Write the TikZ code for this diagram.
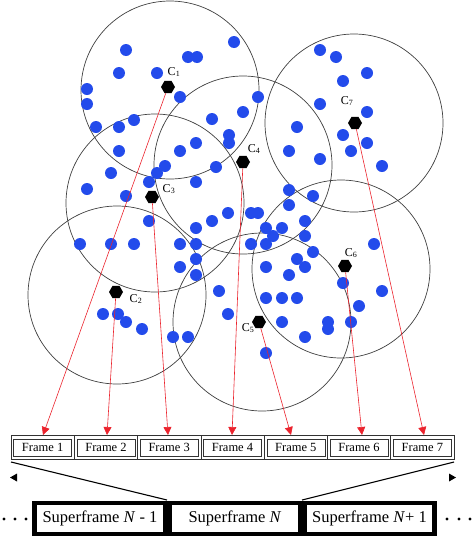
\documentclass[tikz,border=0pt]{standalone}
\usepackage{fontspec}
\setmainfont{Liberation Serif}
\usetikzlibrary{shapes.geometric,arrows.meta}
\definecolor{dotblue}{RGB}{35,75,235}
\definecolor{arrred}{RGB}{235,35,45}
\begin{document}
\begin{tikzpicture}[x=1pt,y=-1pt,
  covercirc/.style={draw=black!75, line width=0.7pt},
  sensordot/.style={fill=dotblue},
  chead/.style={regular polygon, regular polygon sides=6, fill=black, inner sep=0pt, minimum size=14pt},
  hlabel/.style={font=\fontsize{12}{12}\selectfont, inner sep=0pt},
  redarr/.style={draw=arrred, line width=0.6pt, -{Triangle[length=8pt,width=8pt]}},
  framecell/.style={draw=black!80, line width=0.6pt, minimum width=58pt, minimum height=17pt, inner sep=0pt, font=\fontsize{12.5}{12.5}\selectfont},
  supercell/.style={fill=white, minimum height=27pt, inner sep=0pt, font=\fontsize{16.5}{16.5}\selectfont},
  xlink/.style={draw=black, line width=1.1pt}]
\useasboundingbox (0,0) rectangle (474,536);
% coverage circles
\foreach \x/\y in {170/90, 354/123, 243/165, 155/203, 117/295, 262/322, 341/269}
  \draw[covercirc] (\x,\y) circle[radius=89];
% sensor nodes
\foreach \x/\y in {126/50, 188/57, 197/57, 234/42, 119/73, 157/73, 87/89, 87/104, 180/97,
  134/120, 119/127, 96/127, 212/119, 243/112, 258/97, 119/151, 180/151, 196/143, 229/135, 229/143,
  165/166, 157/173, 149/182, 216/167, 196/182, 111/173, 87/189, 126/196,
  320/50, 336/57, 367/73, 343/81, 320/104, 367/112, 297/127, 289/151, 320/159, 343/135,
  367/143, 351/151, 382/166, 289/190, 313/196,
  149/221, 228/213, 212/221, 196/228, 80/244, 111/244, 134/244, 180/244, 196/244, 196/259,
  180/267, 196/275, 219/291, 228/314, 103/314, 118/314, 126/322, 142/329, 173/337, 188/337,
  289/205, 251/213, 258/213, 305/221, 266/228, 282/228, 273/236, 305/236, 251/244, 266/244,
  313/252, 297/259, 305/267, 266/267, 289/275, 374/244, 382/291, 343/283, 359/306, 266/298,
  282/298, 297/298, 282/322, 328/322, 328/329, 351/322, 305/337, 266/353}
  \fill[sensordot] (\x,\y) circle[radius=6];
% cluster heads
\node[chead] (c1) at (168,87) {};
\node[chead] (c2) at (116,292) {};
\node[chead] (c3) at (152,197) {};
\node[chead] (c4) at (243,162) {};
\node[chead] (c5) at (259,322) {};
\node[chead] (c6) at (345,266) {};
\node[chead] (c7) at (355,123) {};
\node[hlabel] (l1) at (174,72) {C\textsubscript{1}};
\node[hlabel] (l2) at (136,299) {C\textsubscript{2}};
\node[hlabel] (l3) at (169,189) {C\textsubscript{3}};
\node[hlabel] (l4) at (254,149) {C\textsubscript{4}};
\node[hlabel] (l5) at (248,328) {C\textsubscript{5}};
\node[hlabel] (l6) at (351,253) {C\textsubscript{6}};
\node[hlabel] (l7) at (347,101) {C\textsubscript{7}};
% frame row
\node[draw=black!80, line width=0.6pt, minimum width=443pt, minimum height=24pt, inner sep=0pt] (frames) at (232.5,447) {};
\foreach \x in {74.3,137.6,200.9,264.1,327.4,390.7}
  \draw[black!80, line width=0.6pt] (\x,435) -- (\x,459);
\foreach \i/\x in {1/42.6, 2/106, 3/169.2, 4/232.5, 5/295.8, 6/359, 7/422.4}
  \node[framecell] (f\i) at (\x,447.5) {Frame \i};
\foreach \i/\x in {1/43, 2/107, 3/168, 4/232, 5/291, 6/362, 7/424}
  \coordinate (t\i) at (\x,435);
\foreach \i in {1,...,7}
  \draw[redarr] (c\i) -- (t\i);
% expansion lines and triangles
\coordinate (a1) at (11,462);
\coordinate (a2) at (167,500);
\coordinate (b1) at (454,462);
\coordinate (b2) at (302,500);
\draw[xlink] (a1) -- (a2);
\draw[xlink] (b1) -- (b2);
\fill (17,473.5) -- (10,477.5) -- (17,481.5) -- cycle;
\fill (449,473.5) -- (456,477.5) -- (449,481.5) -- cycle;
% superframe row
\fill[black] (32,501) rectangle (437,537);
\node[supercell, minimum width=126pt] (s1) at (100,518.5) {Superframe \textit{N} - 1};
\node[supercell, minimum width=126pt] (s2) at (235,518.5) {Superframe \textit{N}};
\node[supercell, minimum width=125pt] (s3) at (369.5,518.5) {Superframe \textit{N}+ 1};
\foreach \x in {4,15,26,447,459,470}
  \fill (\x,519) circle[radius=1.6];
\end{tikzpicture}
\end{document}
